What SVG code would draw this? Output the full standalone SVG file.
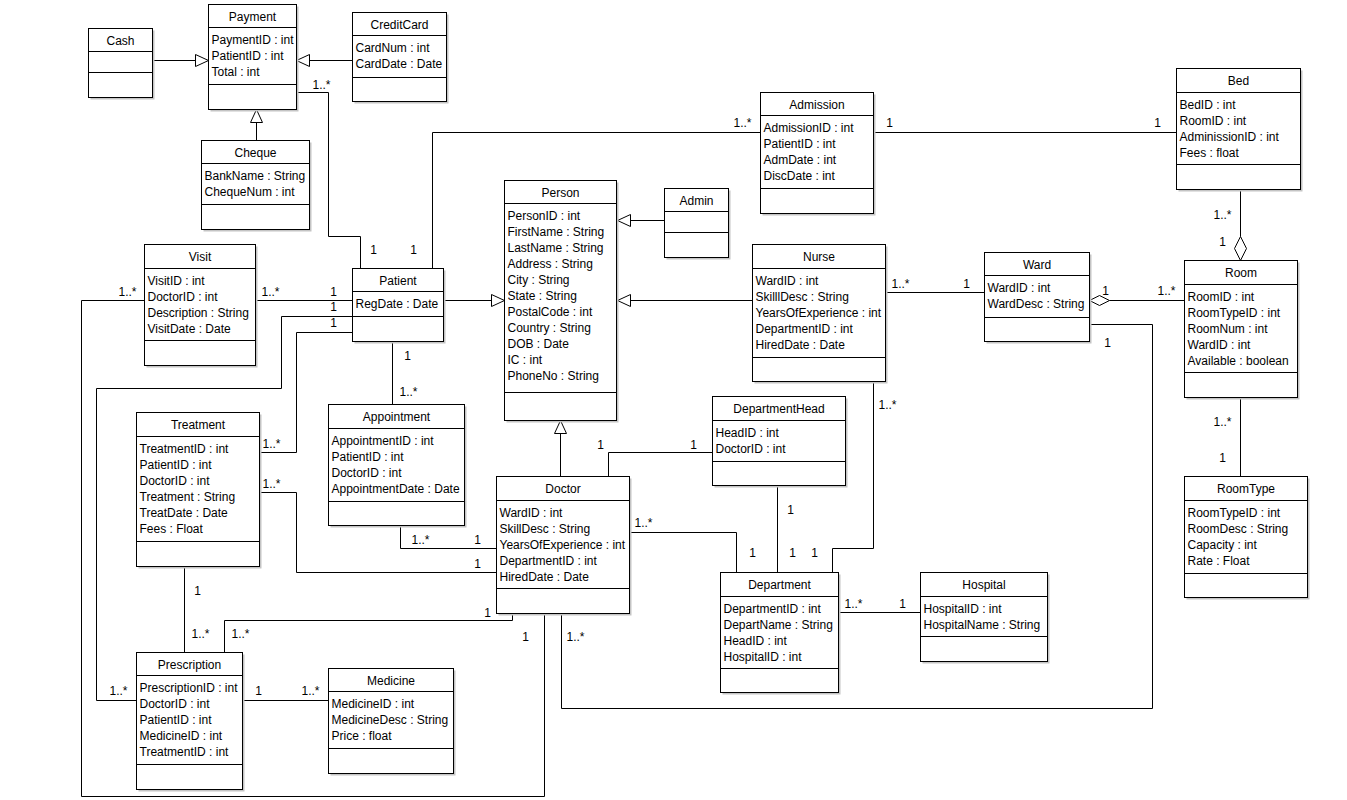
<svg xmlns="http://www.w3.org/2000/svg" width="1347" height="800" viewBox="0 0 1347 800">
<style>
text{font-family:"Liberation Sans",Arial,sans-serif;font-size:12px;fill:#000}
.title{text-anchor:middle}
.lbl{text-anchor:middle}
.box{fill:#fff;stroke:#000;stroke-width:1}
.sh{fill:#c4c4c4}
.div{stroke:#000;stroke-width:1;fill:none}
.ln{stroke:#000;stroke-width:1;fill:none}
.tri{fill:#fff;stroke:#000;stroke-width:1}
</style>
<rect x="0" y="0" width="1347" height="800" fill="#fff"/>
<g transform="translate(0.5,0.5)">
<g id="connectors">
<path class="ln" d="M152,60H195"/><path class="tri" d="M208,60L195,54V66Z"/>
<path class="ln" d="M352,60H309"/><path class="tri" d="M296,60L309,54V66Z"/>
<path class="ln" d="M256,140V122"/><path class="tri" d="M256,109L250,122H262Z"/>
<path class="ln" d="M296,92H328V236H360V268"/>
<path class="ln" d="M760,132H432V268"/>
<path class="ln" d="M873,132H1176"/>
<path class="ln" d="M1240,189V236"/><path class="tri" d="M1240,236L1246,248L1240,260L1234,248Z"/>
<path class="ln" d="M664,220H630"/><path class="tri" d="M617,220L630,214V226Z"/>
<path class="ln" d="M752,300H630"/><path class="tri" d="M617,300L630,294V306Z"/>
<path class="ln" d="M443,300H491"/><path class="tri" d="M504,300L491,294V306Z"/>
<path class="ln" d="M560,476V433"/><path class="tri" d="M560,420L554,433H566Z"/>
<path class="ln" d="M255,300H352"/>
<path class="ln" d="M144,300H81V796H544V613"/>
<path class="ln" d="M352,316H281V388H96V700H136"/>
<path class="ln" d="M352,332H296V452H259"/>
<path class="ln" d="M392,341V404"/>
<path class="ln" d="M259,492H296V572H496"/>
<path class="ln" d="M400,525V548H496"/>
<path class="ln" d="M608,476V452H712"/>
<path class="ln" d="M777,485V572"/>
<path class="ln" d="M629,532H736V572"/>
<path class="ln" d="M873,381V548H832V572"/>
<path class="ln" d="M885,292H984"/>
<path class="ln" d="M1109,300H1184"/><path class="tri" d="M1089,300L1099,295L1109,300L1099,305Z"/>
<path class="ln" d="M1089,324H1152V708H561V613"/>
<path class="ln" d="M1240,397V476"/>
<path class="ln" d="M838,612H920"/>
<path class="ln" d="M184,566V652"/>
<path class="ln" d="M512,613V620H224V652"/>
<path class="ln" d="M242,700H328"/>
<g id="labels">
<text class="lbl" x="321" y="88">1..*</text>
<text class="lbl" x="373" y="253">1</text>
<text class="lbl" x="413" y="253">1</text>
<text class="lbl" x="742" y="126">1..*</text>
<text class="lbl" x="889" y="126">1</text>
<text class="lbl" x="1157" y="126">1</text>
<text class="lbl" x="1222" y="218">1..*</text>
<text class="lbl" x="1222" y="245">1</text>
<text class="lbl" x="127" y="295">1..*</text>
<text class="lbl" x="270" y="295">1..*</text>
<text class="lbl" x="333" y="295">1</text>
<text class="lbl" x="333" y="310">1</text>
<text class="lbl" x="333" y="326">1</text>
<text class="lbl" x="407" y="359">1</text>
<text class="lbl" x="408" y="395">1..*</text>
<text class="lbl" x="900" y="287">1..*</text>
<text class="lbl" x="966" y="287">1</text>
<text class="lbl" x="1105" y="294">1</text>
<text class="lbl" x="1166" y="294">1..*</text>
<text class="lbl" x="1107" y="346">1</text>
<text class="lbl" x="1222" y="425">1..*</text>
<text class="lbl" x="1222" y="461">1</text>
<text class="lbl" x="887" y="408">1..*</text>
<text class="lbl" x="271" y="447">1..*</text>
<text class="lbl" x="271" y="487">1..*</text>
<text class="lbl" x="600" y="448">1</text>
<text class="lbl" x="693" y="448">1</text>
<text class="lbl" x="790" y="513">1</text>
<text class="lbl" x="420" y="543">1..*</text>
<text class="lbl" x="477" y="543">1</text>
<text class="lbl" x="477" y="567">1</text>
<text class="lbl" x="643" y="526">1..*</text>
<text class="lbl" x="752" y="556">1</text>
<text class="lbl" x="792" y="556">1</text>
<text class="lbl" x="814" y="556">1</text>
<text class="lbl" x="197" y="594">1</text>
<text class="lbl" x="200" y="637">1..*</text>
<text class="lbl" x="240" y="637">1..*</text>
<text class="lbl" x="487" y="616">1</text>
<text class="lbl" x="525" y="640">1</text>
<text class="lbl" x="575" y="640">1..*</text>
<text class="lbl" x="118" y="694">1..*</text>
<text class="lbl" x="258" y="694">1</text>
<text class="lbl" x="310" y="694">1..*</text>
<text class="lbl" x="853" y="607">1..*</text>
<text class="lbl" x="902" y="607">1</text>
</g>
</g>
<g id="Cash" class="node"><rect class="sh" x="90" y="30" width="64" height="69"/><rect class="box" x="88" y="28" width="64" height="69"/><path class="div" d="M88,51H152M88,72H152"/><text class="title" x="120" y="44">Cash</text></g>
<g id="Payment" class="node"><rect class="sh" x="210" y="6" width="88" height="105"/><rect class="box" x="208" y="4" width="88" height="105"/><path class="div" d="M208,27H296M208,84H296"/><text class="title" x="252" y="20">Payment</text><text x="211" y="43">PaymentID : int</text><text x="211" y="59">PatientID : int</text><text x="211" y="75">Total : int</text></g>
<g id="CreditCard" class="node"><rect class="sh" x="354" y="14" width="94" height="89"/><rect class="box" x="352" y="12" width="94" height="89"/><path class="div" d="M352,35H446M352,77H446"/><text class="title" x="399" y="28">CreditCard</text><text x="355" y="51">CardNum : int</text><text x="355" y="67">CardDate : Date</text></g>
<g id="Cheque" class="node"><rect class="sh" x="203" y="142" width="108" height="89"/><rect class="box" x="201" y="140" width="108" height="89"/><path class="div" d="M201,163H309M201,204H309"/><text class="title" x="255" y="156">Cheque</text><text x="204" y="179">BankName : String</text><text x="204" y="195">ChequeNum : int</text></g>
<g id="Admission" class="node"><rect class="sh" x="762" y="94" width="113" height="121"/><rect class="box" x="760" y="92" width="113" height="121"/><path class="div" d="M760,115H873M760,188H873"/><text class="title" x="816.5" y="108">Admission</text><text x="763" y="131">AdmissionID : int</text><text x="763" y="147">PatientID : int</text><text x="763" y="163">AdmDate : int</text><text x="763" y="179">DiscDate : int</text></g>
<g id="Bed" class="node"><rect class="sh" x="1178" y="70" width="124" height="121"/><rect class="box" x="1176" y="68" width="124" height="121"/><path class="div" d="M1176,92H1300M1176,164H1300"/><text class="title" x="1238" y="84.5">Bed</text><text x="1179" y="108">BedID : int</text><text x="1179" y="124">RoomID : int</text><text x="1179" y="140">AdminissionID : int</text><text x="1179" y="156">Fees : float</text></g>
<g id="Person" class="node"><rect class="sh" x="506" y="182" width="112" height="240"/><rect class="box" x="504" y="180" width="112" height="240"/><path class="div" d="M504,203H616M504,392H616"/><text class="title" x="560" y="196">Person</text><text x="507" y="219">PersonID : int</text><text x="507" y="235">FirstName : String</text><text x="507" y="251">LastName : String</text><text x="507" y="267">Address : String</text><text x="507" y="283">City : String</text><text x="507" y="299">State : String</text><text x="507" y="315">PostalCode : int</text><text x="507" y="331">Country : String</text><text x="507" y="347">DOB : Date</text><text x="507" y="363">IC : int</text><text x="507" y="379">PhoneNo : String</text></g>
<g id="Admin" class="node"><rect class="sh" x="666" y="190" width="64" height="69"/><rect class="box" x="664" y="188" width="64" height="69"/><path class="div" d="M664,211H728M664,232H728"/><text class="title" x="696" y="204">Admin</text></g>
<g id="Visit" class="node"><rect class="sh" x="146" y="246" width="111" height="121"/><rect class="box" x="144" y="244" width="111" height="121"/><path class="div" d="M144,268H255M144,340H255"/><text class="title" x="199.5" y="260.5">Visit</text><text x="147" y="284">VisitID : int</text><text x="147" y="300">DoctorID : int</text><text x="147" y="316">Description : String</text><text x="147" y="332">VisitDate : Date</text></g>
<g id="Patient" class="node"><rect class="sh" x="354" y="270" width="91" height="73"/><rect class="box" x="352" y="268" width="91" height="73"/><path class="div" d="M352,291H443M352,316H443"/><text class="title" x="397.5" y="284">Patient</text><text x="355" y="307">RegDate : Date</text></g>
<g id="Nurse" class="node"><rect class="sh" x="754" y="246" width="133" height="137"/><rect class="box" x="752" y="244" width="133" height="137"/><path class="div" d="M752,268H885M752,357H885"/><text class="title" x="818.5" y="260.5">Nurse</text><text x="755" y="284">WardID : int</text><text x="755" y="300">SkilllDesc : String</text><text x="755" y="316">YearsOfExperience : int</text><text x="755" y="332">DepartmentID : int</text><text x="755" y="348">HiredDate : Date</text></g>
<g id="Ward" class="node"><rect class="sh" x="986" y="254" width="105" height="89"/><rect class="box" x="984" y="252" width="105" height="89"/><path class="div" d="M984,275H1089M984,317H1089"/><text class="title" x="1036.5" y="268">Ward</text><text x="987" y="291">WardID : int</text><text x="987" y="307">WardDesc : String</text></g>
<g id="Room" class="node"><rect class="sh" x="1186" y="262" width="113" height="137"/><rect class="box" x="1184" y="260" width="113" height="137"/><path class="div" d="M1184,284H1297M1184,372H1297"/><text class="title" x="1240.5" y="276.5">Room</text><text x="1187" y="300">RoomID : int</text><text x="1187" y="316">RoomTypeID : int</text><text x="1187" y="332">RoomNum : int</text><text x="1187" y="348">WardID : int</text><text x="1187" y="364">Available : boolean</text></g>
<g id="RoomType" class="node"><rect class="sh" x="1186" y="478" width="123" height="121"/><rect class="box" x="1184" y="476" width="123" height="121"/><path class="div" d="M1184,500H1307M1184,573H1307"/><text class="title" x="1245.5" y="492.5">RoomType</text><text x="1187" y="516">RoomTypeID : int</text><text x="1187" y="532">RoomDesc : String</text><text x="1187" y="548">Capacity : int</text><text x="1187" y="564">Rate : Float</text></g>
<g id="Treatment" class="node"><rect class="sh" x="138" y="414" width="123" height="154"/><rect class="box" x="136" y="412" width="123" height="154"/><path class="div" d="M136,436H259M136,541H259"/><text class="title" x="197.5" y="428.5">Treatment</text><text x="139" y="452">TreatmentID : int</text><text x="139" y="468">PatientID : int</text><text x="139" y="484">DoctorID : int</text><text x="139" y="500">Treatment : String</text><text x="139" y="516">TreatDate : Date</text><text x="139" y="532">Fees : Float</text></g>
<g id="Appointment" class="node"><rect class="sh" x="330" y="406" width="136" height="121"/><rect class="box" x="328" y="404" width="136" height="121"/><path class="div" d="M328,428H464M328,501H464"/><text class="title" x="396" y="420.5">Appointment</text><text x="331" y="444">AppointmentID : int</text><text x="331" y="460">PatientID : int</text><text x="331" y="476">DoctorID : int</text><text x="331" y="492">AppointmentDate : Date</text></g>
<g id="Doctor" class="node"><rect class="sh" x="498" y="478" width="133" height="137"/><rect class="box" x="496" y="476" width="133" height="137"/><path class="div" d="M496,500H629M496,588H629"/><text class="title" x="562.5" y="492.5">Doctor</text><text x="499" y="516">WardID : int</text><text x="499" y="532">SkillDesc : String</text><text x="499" y="548">YearsOfExperience : int</text><text x="499" y="564">DepartmentID : int</text><text x="499" y="580">HiredDate : Date</text></g>
<g id="DepartmentHead" class="node"><rect class="sh" x="714" y="398" width="133" height="89"/><rect class="box" x="712" y="396" width="133" height="89"/><path class="div" d="M712,420H845M712,461H845"/><text class="title" x="778.5" y="412.5">DepartmentHead</text><text x="715" y="436">HeadID : int</text><text x="715" y="452">DoctorID : int</text></g>
<g id="Department" class="node"><rect class="sh" x="722" y="574" width="118" height="120"/><rect class="box" x="720" y="572" width="118" height="120"/><path class="div" d="M720,596H838M720,668H838"/><text class="title" x="779" y="588.5">Department</text><text x="723" y="612">DepartmentID : int</text><text x="723" y="628">DepartName : String</text><text x="723" y="644">HeadID : int</text><text x="723" y="660">HospitalID : int</text></g>
<g id="Hospital" class="node"><rect class="sh" x="922" y="574" width="127" height="89"/><rect class="box" x="920" y="572" width="127" height="89"/><path class="div" d="M920,596H1047M920,636H1047"/><text class="title" x="983.5" y="588.5">Hospital</text><text x="923" y="612">HospitalID : int</text><text x="923" y="628">HospitalName : String</text></g>
<g id="Prescription" class="node"><rect class="sh" x="138" y="654" width="106" height="137"/><rect class="box" x="136" y="652" width="106" height="137"/><path class="div" d="M136,675H242M136,764H242"/><text class="title" x="189" y="668">Prescription</text><text x="139" y="691">PrescriptionID : int</text><text x="139" y="707">DoctorID : int</text><text x="139" y="723">PatientID : int</text><text x="139" y="739">MedicineID : int</text><text x="139" y="755">TreatmentID : int</text></g>
<g id="Medicine" class="node"><rect class="sh" x="330" y="670" width="125" height="105"/><rect class="box" x="328" y="668" width="125" height="105"/><path class="div" d="M328,691H453M328,748H453"/><text class="title" x="390.5" y="684">Medicine</text><text x="331" y="707">MedicineID : int</text><text x="331" y="723">MedicineDesc : String</text><text x="331" y="739">Price : float</text></g>
</g>
</svg>
